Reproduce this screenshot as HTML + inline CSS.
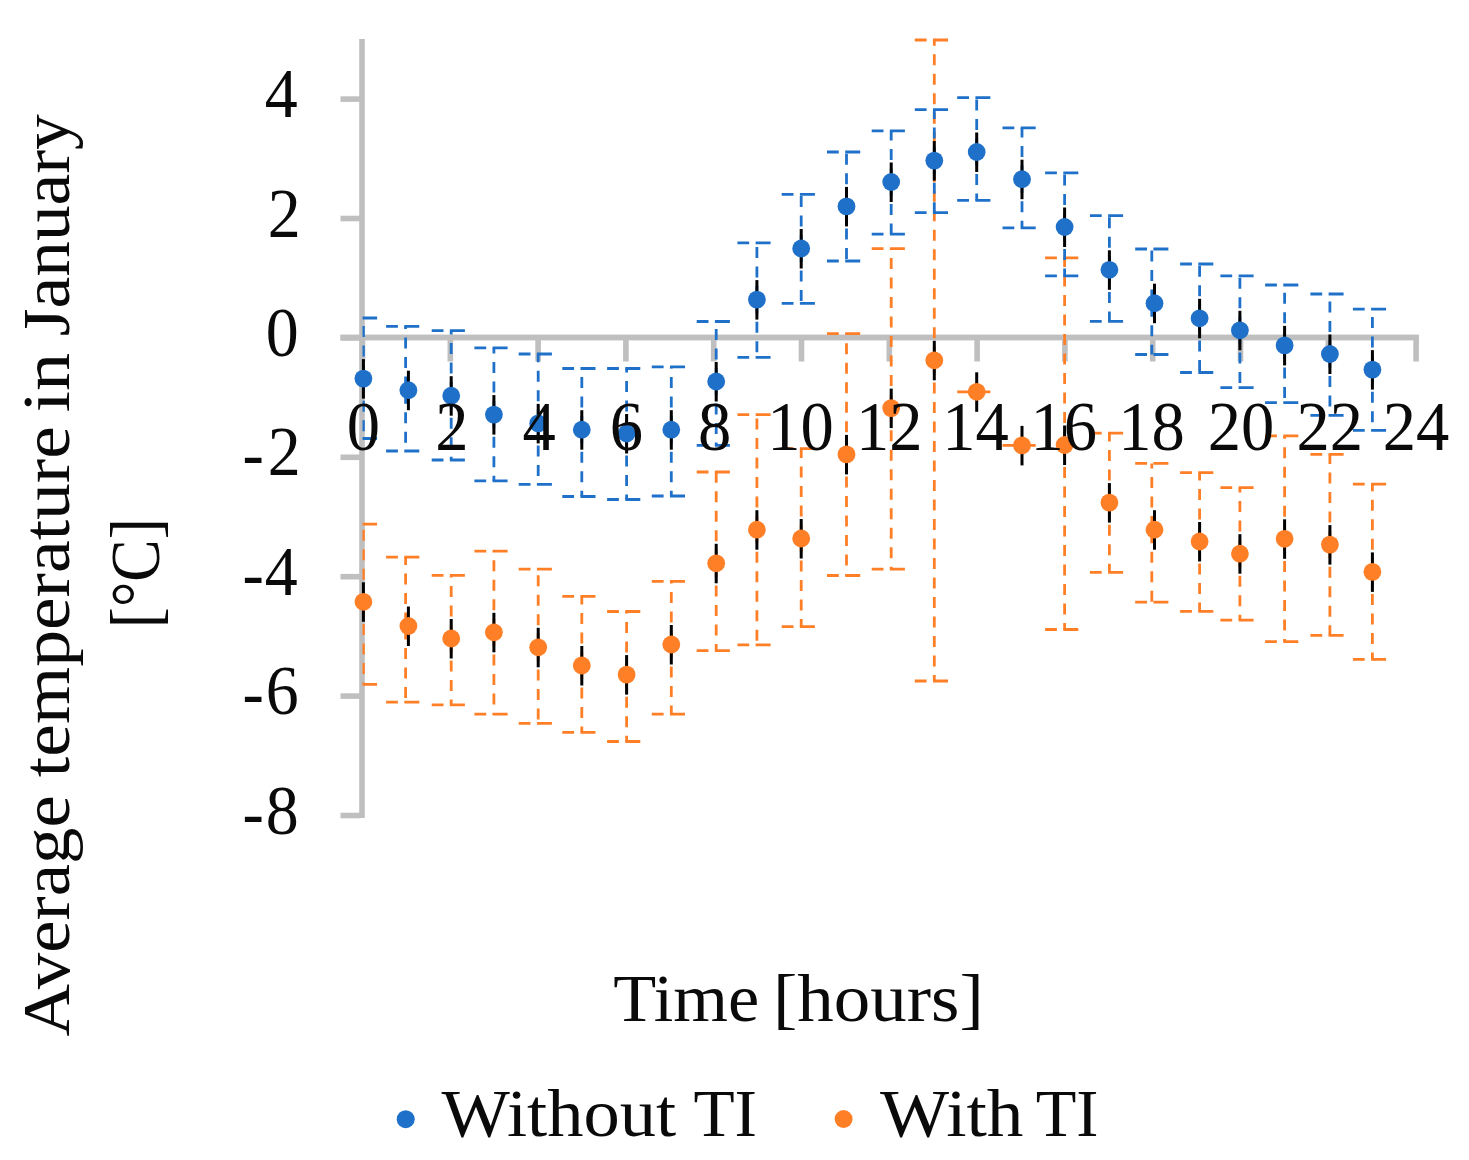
<!DOCTYPE html>
<html><head><meta charset="utf-8"><title>Average temperature in January</title>
<style>
html,body{margin:0;padding:0;background:#fff}
body{width:1469px;height:1160px;overflow:hidden}
svg{display:block;filter:blur(0.65px)}
text{font-family:"Liberation Serif",serif;fill:#0a0a0a}
</style></head><body>
<svg width="1469" height="1160" viewBox="0 0 1469 1160">
<rect width="1469" height="1160" fill="#fff"/>
<defs><clipPath id="plot"><rect x="362.5" y="36" width="1090" height="790"/></clipPath></defs>
<g id="axes">
<rect x="359.2" y="39" width="5.6" height="779" fill="#bfbfbf"/>
<rect x="340.5" y="96.3" width="20" height="5.6" fill="#bfbfbf"/>
<rect x="340.5" y="215.7" width="20" height="5.6" fill="#bfbfbf"/>
<rect x="340.5" y="335.1" width="20" height="5.6" fill="#bfbfbf"/>
<rect x="340.5" y="454.5" width="20" height="5.6" fill="#bfbfbf"/>
<rect x="340.5" y="573.9" width="20" height="5.6" fill="#bfbfbf"/>
<rect x="340.5" y="693.3" width="20" height="5.6" fill="#bfbfbf"/>
<rect x="340.5" y="812.7" width="20" height="5.6" fill="#bfbfbf"/>
<rect x="340.5" y="334.6" width="1078.4" height="5.8" fill="#bfbfbf"/>
<rect x="359.7" y="337" width="5.6" height="24.5" fill="#bfbfbf"/>
<rect x="447.5" y="337" width="5.6" height="24.5" fill="#bfbfbf"/>
<rect x="535.3" y="337" width="5.6" height="24.5" fill="#bfbfbf"/>
<rect x="623.1" y="337" width="5.6" height="24.5" fill="#bfbfbf"/>
<rect x="710.9" y="337" width="5.6" height="24.5" fill="#bfbfbf"/>
<rect x="798.7" y="337" width="5.6" height="24.5" fill="#bfbfbf"/>
<rect x="886.5" y="337" width="5.6" height="24.5" fill="#bfbfbf"/>
<rect x="974.3" y="337" width="5.6" height="24.5" fill="#bfbfbf"/>
<rect x="1062.1" y="337" width="5.6" height="24.5" fill="#bfbfbf"/>
<rect x="1149.9" y="337" width="5.6" height="24.5" fill="#bfbfbf"/>
<rect x="1237.7" y="337" width="5.6" height="24.5" fill="#bfbfbf"/>
<rect x="1325.5" y="337" width="5.6" height="24.5" fill="#bfbfbf"/>
<rect x="1413.3" y="337" width="5.6" height="24.5" fill="#bfbfbf"/>
</g>
<g id="orange" clip-path="url(#plot)">
<path d="M343.9 524.2h33.2" stroke="#ff7f27" stroke-width="2.8" stroke-dasharray="11.8 6.4 20 0" fill="none"/>
<path d="M343.9 684.3h33.2" stroke="#ff7f27" stroke-width="2.8" stroke-dasharray="11.8 6.4 20 0" fill="none"/>
<path d="M363.4 601.8V524.2" stroke="#ff7f27" stroke-width="2.8" stroke-dasharray="11 8.5" stroke-dashoffset="-2.6" fill="none"/>
<path d="M363.4 601.8V684.3" stroke="#ff7f27" stroke-width="2.8" stroke-dasharray="11 8.5" stroke-dashoffset="-2.6" fill="none"/>
<path d="M386.1 557.2h33.2" stroke="#ff7f27" stroke-width="2.8" stroke-dasharray="11.8 6.4 20 0" fill="none"/>
<path d="M386.1 702.2h33.2" stroke="#ff7f27" stroke-width="2.8" stroke-dasharray="11.8 6.4 20 0" fill="none"/>
<path d="M405.6 626.0V557.2" stroke="#ff7f27" stroke-width="2.8" stroke-dasharray="11 8.5" stroke-dashoffset="-2.6" fill="none"/>
<path d="M405.6 626.0V702.2" stroke="#ff7f27" stroke-width="2.8" stroke-dasharray="11 8.5" stroke-dashoffset="-2.6" fill="none"/>
<path d="M431.7 575.4h33.2" stroke="#ff7f27" stroke-width="2.8" stroke-dasharray="11.8 6.4 20 0" fill="none"/>
<path d="M431.7 704.8h33.2" stroke="#ff7f27" stroke-width="2.8" stroke-dasharray="11.8 6.4 20 0" fill="none"/>
<path d="M451.2 638.5V575.4" stroke="#ff7f27" stroke-width="2.8" stroke-dasharray="11 8.5" stroke-dashoffset="-2.6" fill="none"/>
<path d="M451.2 638.5V704.8" stroke="#ff7f27" stroke-width="2.8" stroke-dasharray="11 8.5" stroke-dashoffset="-2.6" fill="none"/>
<path d="M474.4 551.2h33.2" stroke="#ff7f27" stroke-width="2.8" stroke-dasharray="11.8 6.4 20 0" fill="none"/>
<path d="M474.4 714.2h33.2" stroke="#ff7f27" stroke-width="2.8" stroke-dasharray="11.8 6.4 20 0" fill="none"/>
<path d="M493.9 632.3V551.2" stroke="#ff7f27" stroke-width="2.8" stroke-dasharray="11 8.5" stroke-dashoffset="-2.6" fill="none"/>
<path d="M493.9 632.3V714.2" stroke="#ff7f27" stroke-width="2.8" stroke-dasharray="11 8.5" stroke-dashoffset="-2.6" fill="none"/>
<path d="M518.7 569.1h33.2" stroke="#ff7f27" stroke-width="2.8" stroke-dasharray="11.8 6.4 20 0" fill="none"/>
<path d="M518.7 723.3h33.2" stroke="#ff7f27" stroke-width="2.8" stroke-dasharray="11.8 6.4 20 0" fill="none"/>
<path d="M538.2 647.3V569.1" stroke="#ff7f27" stroke-width="2.8" stroke-dasharray="11 8.5" stroke-dashoffset="-2.6" fill="none"/>
<path d="M538.2 647.3V723.3" stroke="#ff7f27" stroke-width="2.8" stroke-dasharray="11 8.5" stroke-dashoffset="-2.6" fill="none"/>
<path d="M562.3 596.4h33.2" stroke="#ff7f27" stroke-width="2.8" stroke-dasharray="11.8 6.4 20 0" fill="none"/>
<path d="M562.3 732.4h33.2" stroke="#ff7f27" stroke-width="2.8" stroke-dasharray="11.8 6.4 20 0" fill="none"/>
<path d="M581.8 665.5V596.4" stroke="#ff7f27" stroke-width="2.8" stroke-dasharray="11 8.5" stroke-dashoffset="-2.6" fill="none"/>
<path d="M581.8 665.5V732.4" stroke="#ff7f27" stroke-width="2.8" stroke-dasharray="11 8.5" stroke-dashoffset="-2.6" fill="none"/>
<path d="M607.1 611.5h33.2" stroke="#ff7f27" stroke-width="2.8" stroke-dasharray="11.8 6.4 20 0" fill="none"/>
<path d="M607.1 741.5h33.2" stroke="#ff7f27" stroke-width="2.8" stroke-dasharray="11.8 6.4 20 0" fill="none"/>
<path d="M626.6 674.6V611.5" stroke="#ff7f27" stroke-width="2.8" stroke-dasharray="11 8.5" stroke-dashoffset="-2.6" fill="none"/>
<path d="M626.6 674.6V741.5" stroke="#ff7f27" stroke-width="2.8" stroke-dasharray="11 8.5" stroke-dashoffset="-2.6" fill="none"/>
<path d="M651.8 581.3h33.2" stroke="#ff7f27" stroke-width="2.8" stroke-dasharray="11.8 6.4 20 0" fill="none"/>
<path d="M651.8 714.2h33.2" stroke="#ff7f27" stroke-width="2.8" stroke-dasharray="11.8 6.4 20 0" fill="none"/>
<path d="M671.3 644.5V581.3" stroke="#ff7f27" stroke-width="2.8" stroke-dasharray="11 8.5" stroke-dashoffset="-2.6" fill="none"/>
<path d="M671.3 644.5V714.2" stroke="#ff7f27" stroke-width="2.8" stroke-dasharray="11 8.5" stroke-dashoffset="-2.6" fill="none"/>
<path d="M696.7 472.0h33.2" stroke="#ff7f27" stroke-width="2.8" stroke-dasharray="11.8 6.4 20 0" fill="none"/>
<path d="M696.7 650.7h33.2" stroke="#ff7f27" stroke-width="2.8" stroke-dasharray="11.8 6.4 20 0" fill="none"/>
<path d="M716.2 563.3V472.0" stroke="#ff7f27" stroke-width="2.8" stroke-dasharray="11 8.5" stroke-dashoffset="-2.6" fill="none"/>
<path d="M716.2 563.3V650.7" stroke="#ff7f27" stroke-width="2.8" stroke-dasharray="11 8.5" stroke-dashoffset="-2.6" fill="none"/>
<path d="M737.4 414.6h33.2" stroke="#ff7f27" stroke-width="2.8" stroke-dasharray="11.8 6.4 20 0" fill="none"/>
<path d="M737.4 644.8h33.2" stroke="#ff7f27" stroke-width="2.8" stroke-dasharray="11.8 6.4 20 0" fill="none"/>
<path d="M756.9 529.7V414.6" stroke="#ff7f27" stroke-width="2.8" stroke-dasharray="11 8.5" stroke-dashoffset="-2.6" fill="none"/>
<path d="M756.9 529.7V644.8" stroke="#ff7f27" stroke-width="2.8" stroke-dasharray="11 8.5" stroke-dashoffset="-2.6" fill="none"/>
<path d="M781.7 448.7h33.2" stroke="#ff7f27" stroke-width="2.8" stroke-dasharray="11.8 6.4 20 0" fill="none"/>
<path d="M781.7 626.7h33.2" stroke="#ff7f27" stroke-width="2.8" stroke-dasharray="11.8 6.4 20 0" fill="none"/>
<path d="M801.2 538.5V448.7" stroke="#ff7f27" stroke-width="2.8" stroke-dasharray="11 8.5" stroke-dashoffset="-2.6" fill="none"/>
<path d="M801.2 538.5V626.7" stroke="#ff7f27" stroke-width="2.8" stroke-dasharray="11 8.5" stroke-dashoffset="-2.6" fill="none"/>
<path d="M827.0 333.6h33.2" stroke="#ff7f27" stroke-width="2.8" stroke-dasharray="11.8 6.4 20 0" fill="none"/>
<path d="M827.0 575.5h33.2" stroke="#ff7f27" stroke-width="2.8" stroke-dasharray="11.8 6.4 20 0" fill="none"/>
<path d="M846.5 454.4V333.6" stroke="#ff7f27" stroke-width="2.8" stroke-dasharray="11 8.5" stroke-dashoffset="-2.6" fill="none"/>
<path d="M846.5 454.4V575.5" stroke="#ff7f27" stroke-width="2.8" stroke-dasharray="11 8.5" stroke-dashoffset="-2.6" fill="none"/>
<path d="M871.7 248.7h33.2" stroke="#ff7f27" stroke-width="2.8" stroke-dasharray="11.8 6.4 20 0" fill="none"/>
<path d="M871.7 569.2h33.2" stroke="#ff7f27" stroke-width="2.8" stroke-dasharray="11.8 6.4 20 0" fill="none"/>
<path d="M891.2 408.1V248.7" stroke="#ff7f27" stroke-width="2.8" stroke-dasharray="11 8.5" stroke-dashoffset="-2.6" fill="none"/>
<path d="M891.2 408.1V569.2" stroke="#ff7f27" stroke-width="2.8" stroke-dasharray="11 8.5" stroke-dashoffset="-2.6" fill="none"/>
<path d="M914.8 40.0h33.2" stroke="#ff7f27" stroke-width="2.8" stroke-dasharray="11.8 6.4 20 0" fill="none"/>
<path d="M914.8 681.0h33.2" stroke="#ff7f27" stroke-width="2.8" stroke-dasharray="11.8 6.4 20 0" fill="none"/>
<path d="M934.3 360.3V40.0" stroke="#ff7f27" stroke-width="2.8" stroke-dasharray="11 8.5" stroke-dashoffset="-2.6" fill="none"/>
<path d="M934.3 360.3V681.0" stroke="#ff7f27" stroke-width="2.8" stroke-dasharray="11 8.5" stroke-dashoffset="-2.6" fill="none"/>
<path d="M957.2 391.8h33.2" stroke="#ff7f27" stroke-width="2.8" stroke-dasharray="11.8 6.4 20 0" fill="none"/>
<path d="M1002.5 445.4h33.2" stroke="#ff7f27" stroke-width="2.8" stroke-dasharray="11.8 6.4 20 0" fill="none"/>
<path d="M1045.1 257.8h33.2" stroke="#ff7f27" stroke-width="2.8" stroke-dasharray="11.8 6.4 20 0" fill="none"/>
<path d="M1045.1 629.5h33.2" stroke="#ff7f27" stroke-width="2.8" stroke-dasharray="11.8 6.4 20 0" fill="none"/>
<path d="M1064.6 445.0V257.8" stroke="#ff7f27" stroke-width="2.8" stroke-dasharray="11 8.5" stroke-dashoffset="-2.6" fill="none"/>
<path d="M1064.6 445.0V629.5" stroke="#ff7f27" stroke-width="2.8" stroke-dasharray="11 8.5" stroke-dashoffset="-2.6" fill="none"/>
<path d="M1089.9 433.1h33.2" stroke="#ff7f27" stroke-width="2.8" stroke-dasharray="11.8 6.4 20 0" fill="none"/>
<path d="M1089.9 572.4h33.2" stroke="#ff7f27" stroke-width="2.8" stroke-dasharray="11.8 6.4 20 0" fill="none"/>
<path d="M1109.4 502.6V433.1" stroke="#ff7f27" stroke-width="2.8" stroke-dasharray="11 8.5" stroke-dashoffset="-2.6" fill="none"/>
<path d="M1109.4 502.6V572.4" stroke="#ff7f27" stroke-width="2.8" stroke-dasharray="11 8.5" stroke-dashoffset="-2.6" fill="none"/>
<path d="M1135.2 463.4h33.2" stroke="#ff7f27" stroke-width="2.8" stroke-dasharray="11.8 6.4 20 0" fill="none"/>
<path d="M1135.2 602.2h33.2" stroke="#ff7f27" stroke-width="2.8" stroke-dasharray="11.8 6.4 20 0" fill="none"/>
<path d="M1151.8 529.7V463.4" stroke="#ff7f27" stroke-width="2.8" stroke-dasharray="11 8.5" stroke-dashoffset="-2.6" fill="none"/>
<path d="M1151.8 529.7V602.2" stroke="#ff7f27" stroke-width="2.8" stroke-dasharray="11 8.5" stroke-dashoffset="-2.6" fill="none"/>
<path d="M1180.1 472.6h33.2" stroke="#ff7f27" stroke-width="2.8" stroke-dasharray="11.8 6.4 20 0" fill="none"/>
<path d="M1180.1 611.3h33.2" stroke="#ff7f27" stroke-width="2.8" stroke-dasharray="11.8 6.4 20 0" fill="none"/>
<path d="M1199.6 541.5V472.6" stroke="#ff7f27" stroke-width="2.8" stroke-dasharray="11 8.5" stroke-dashoffset="-2.6" fill="none"/>
<path d="M1199.6 541.5V611.3" stroke="#ff7f27" stroke-width="2.8" stroke-dasharray="11 8.5" stroke-dashoffset="-2.6" fill="none"/>
<path d="M1220.4 487.7h33.2" stroke="#ff7f27" stroke-width="2.8" stroke-dasharray="11.8 6.4 20 0" fill="none"/>
<path d="M1220.4 620.1h33.2" stroke="#ff7f27" stroke-width="2.8" stroke-dasharray="11.8 6.4 20 0" fill="none"/>
<path d="M1239.9 553.7V487.7" stroke="#ff7f27" stroke-width="2.8" stroke-dasharray="11 8.5" stroke-dashoffset="-2.6" fill="none"/>
<path d="M1239.9 553.7V620.1" stroke="#ff7f27" stroke-width="2.8" stroke-dasharray="11 8.5" stroke-dashoffset="-2.6" fill="none"/>
<path d="M1265.1 435.9h33.2" stroke="#ff7f27" stroke-width="2.8" stroke-dasharray="11.8 6.4 20 0" fill="none"/>
<path d="M1265.1 641.7h33.2" stroke="#ff7f27" stroke-width="2.8" stroke-dasharray="11.8 6.4 20 0" fill="none"/>
<path d="M1284.6 538.8V435.9" stroke="#ff7f27" stroke-width="2.8" stroke-dasharray="11 8.5" stroke-dashoffset="-2.6" fill="none"/>
<path d="M1284.6 538.8V641.7" stroke="#ff7f27" stroke-width="2.8" stroke-dasharray="11 8.5" stroke-dashoffset="-2.6" fill="none"/>
<path d="M1310.4 454.3h33.2" stroke="#ff7f27" stroke-width="2.8" stroke-dasharray="11.8 6.4 20 0" fill="none"/>
<path d="M1310.4 635.3h33.2" stroke="#ff7f27" stroke-width="2.8" stroke-dasharray="11.8 6.4 20 0" fill="none"/>
<path d="M1329.9 544.6V454.3" stroke="#ff7f27" stroke-width="2.8" stroke-dasharray="11 8.5" stroke-dashoffset="-2.6" fill="none"/>
<path d="M1329.9 544.6V635.3" stroke="#ff7f27" stroke-width="2.8" stroke-dasharray="11 8.5" stroke-dashoffset="-2.6" fill="none"/>
<path d="M1352.9 484.1h33.2" stroke="#ff7f27" stroke-width="2.8" stroke-dasharray="11.8 6.4 20 0" fill="none"/>
<path d="M1352.9 659.3h33.2" stroke="#ff7f27" stroke-width="2.8" stroke-dasharray="11.8 6.4 20 0" fill="none"/>
<path d="M1372.4 571.9V484.1" stroke="#ff7f27" stroke-width="2.8" stroke-dasharray="11 8.5" stroke-dashoffset="-2.6" fill="none"/>
<path d="M1372.4 571.9V659.3" stroke="#ff7f27" stroke-width="2.8" stroke-dasharray="11 8.5" stroke-dashoffset="-2.6" fill="none"/>
</g>
<g id="blue" clip-path="url(#plot)">
<path d="M343.9 318.0h33.2" stroke="#1f70c9" stroke-width="2.8" stroke-dasharray="11.8 6.4 20 0" fill="none"/>
<path d="M343.9 438.5h33.2" stroke="#1f70c9" stroke-width="2.8" stroke-dasharray="11.8 6.4 20 0" fill="none"/>
<path d="M363.4 378.6V318.0" stroke="#1f70c9" stroke-width="2.8" stroke-dasharray="11 8.5" stroke-dashoffset="-2.6" fill="none"/>
<path d="M363.4 378.6V438.5" stroke="#1f70c9" stroke-width="2.8" stroke-dasharray="11 8.5" stroke-dashoffset="-2.6" fill="none"/>
<path d="M386.1 326.4h33.2" stroke="#1f70c9" stroke-width="2.8" stroke-dasharray="11.8 6.4 20 0" fill="none"/>
<path d="M386.1 451.0h33.2" stroke="#1f70c9" stroke-width="2.8" stroke-dasharray="11.8 6.4 20 0" fill="none"/>
<path d="M405.6 390.2V326.4" stroke="#1f70c9" stroke-width="2.8" stroke-dasharray="11 8.5" stroke-dashoffset="-2.6" fill="none"/>
<path d="M405.6 390.2V451.0" stroke="#1f70c9" stroke-width="2.8" stroke-dasharray="11 8.5" stroke-dashoffset="-2.6" fill="none"/>
<path d="M431.7 330.7h33.2" stroke="#1f70c9" stroke-width="2.8" stroke-dasharray="11.8 6.4 20 0" fill="none"/>
<path d="M431.7 460.0h33.2" stroke="#1f70c9" stroke-width="2.8" stroke-dasharray="11.8 6.4 20 0" fill="none"/>
<path d="M451.2 395.7V330.7" stroke="#1f70c9" stroke-width="2.8" stroke-dasharray="11 8.5" stroke-dashoffset="-2.6" fill="none"/>
<path d="M451.2 395.7V460.0" stroke="#1f70c9" stroke-width="2.8" stroke-dasharray="11 8.5" stroke-dashoffset="-2.6" fill="none"/>
<path d="M474.4 347.9h33.2" stroke="#1f70c9" stroke-width="2.8" stroke-dasharray="11.8 6.4 20 0" fill="none"/>
<path d="M474.4 480.9h33.2" stroke="#1f70c9" stroke-width="2.8" stroke-dasharray="11.8 6.4 20 0" fill="none"/>
<path d="M493.9 414.6V347.9" stroke="#1f70c9" stroke-width="2.8" stroke-dasharray="11 8.5" stroke-dashoffset="-2.6" fill="none"/>
<path d="M493.9 414.6V480.9" stroke="#1f70c9" stroke-width="2.8" stroke-dasharray="11 8.5" stroke-dashoffset="-2.6" fill="none"/>
<path d="M518.7 354.0h33.2" stroke="#1f70c9" stroke-width="2.8" stroke-dasharray="11.8 6.4 20 0" fill="none"/>
<path d="M518.7 484.4h33.2" stroke="#1f70c9" stroke-width="2.8" stroke-dasharray="11.8 6.4 20 0" fill="none"/>
<path d="M538.2 423.4V354.0" stroke="#1f70c9" stroke-width="2.8" stroke-dasharray="11 8.5" stroke-dashoffset="-2.6" fill="none"/>
<path d="M538.2 423.4V484.4" stroke="#1f70c9" stroke-width="2.8" stroke-dasharray="11 8.5" stroke-dashoffset="-2.6" fill="none"/>
<path d="M562.3 368.5h33.2" stroke="#1f70c9" stroke-width="2.8" stroke-dasharray="11.8 6.4 20 0" fill="none"/>
<path d="M562.3 496.5h33.2" stroke="#1f70c9" stroke-width="2.8" stroke-dasharray="11.8 6.4 20 0" fill="none"/>
<path d="M581.8 429.7V368.5" stroke="#1f70c9" stroke-width="2.8" stroke-dasharray="11 8.5" stroke-dashoffset="-2.6" fill="none"/>
<path d="M581.8 429.7V496.5" stroke="#1f70c9" stroke-width="2.8" stroke-dasharray="11 8.5" stroke-dashoffset="-2.6" fill="none"/>
<path d="M607.1 368.5h33.2" stroke="#1f70c9" stroke-width="2.8" stroke-dasharray="11.8 6.4 20 0" fill="none"/>
<path d="M607.1 499.5h33.2" stroke="#1f70c9" stroke-width="2.8" stroke-dasharray="11.8 6.4 20 0" fill="none"/>
<path d="M626.6 433.5V368.5" stroke="#1f70c9" stroke-width="2.8" stroke-dasharray="11 8.5" stroke-dashoffset="-2.6" fill="none"/>
<path d="M626.6 433.5V499.5" stroke="#1f70c9" stroke-width="2.8" stroke-dasharray="11 8.5" stroke-dashoffset="-2.6" fill="none"/>
<path d="M651.8 366.8h33.2" stroke="#1f70c9" stroke-width="2.8" stroke-dasharray="11.8 6.4 20 0" fill="none"/>
<path d="M651.8 496.0h33.2" stroke="#1f70c9" stroke-width="2.8" stroke-dasharray="11.8 6.4 20 0" fill="none"/>
<path d="M671.3 429.7V366.8" stroke="#1f70c9" stroke-width="2.8" stroke-dasharray="11 8.5" stroke-dashoffset="-2.6" fill="none"/>
<path d="M671.3 429.7V496.0" stroke="#1f70c9" stroke-width="2.8" stroke-dasharray="11 8.5" stroke-dashoffset="-2.6" fill="none"/>
<path d="M696.7 321.5h33.2" stroke="#1f70c9" stroke-width="2.8" stroke-dasharray="11.8 6.4 20 0" fill="none"/>
<path d="M696.7 445.4h33.2" stroke="#1f70c9" stroke-width="2.8" stroke-dasharray="11.8 6.4 20 0" fill="none"/>
<path d="M716.2 381.5V321.5" stroke="#1f70c9" stroke-width="2.8" stroke-dasharray="11 8.5" stroke-dashoffset="-2.6" fill="none"/>
<path d="M716.2 381.5V445.4" stroke="#1f70c9" stroke-width="2.8" stroke-dasharray="11 8.5" stroke-dashoffset="-2.6" fill="none"/>
<path d="M737.4 242.9h33.2" stroke="#1f70c9" stroke-width="2.8" stroke-dasharray="11.8 6.4 20 0" fill="none"/>
<path d="M737.4 357.4h33.2" stroke="#1f70c9" stroke-width="2.8" stroke-dasharray="11.8 6.4 20 0" fill="none"/>
<path d="M756.9 299.6V242.9" stroke="#1f70c9" stroke-width="2.8" stroke-dasharray="11 8.5" stroke-dashoffset="-2.6" fill="none"/>
<path d="M756.9 299.6V357.4" stroke="#1f70c9" stroke-width="2.8" stroke-dasharray="11 8.5" stroke-dashoffset="-2.6" fill="none"/>
<path d="M781.7 194.3h33.2" stroke="#1f70c9" stroke-width="2.8" stroke-dasharray="11.8 6.4 20 0" fill="none"/>
<path d="M781.7 303.4h33.2" stroke="#1f70c9" stroke-width="2.8" stroke-dasharray="11.8 6.4 20 0" fill="none"/>
<path d="M801.2 248.5V194.3" stroke="#1f70c9" stroke-width="2.8" stroke-dasharray="11 8.5" stroke-dashoffset="-2.6" fill="none"/>
<path d="M801.2 248.5V303.4" stroke="#1f70c9" stroke-width="2.8" stroke-dasharray="11 8.5" stroke-dashoffset="-2.6" fill="none"/>
<path d="M827.0 152.0h33.2" stroke="#1f70c9" stroke-width="2.8" stroke-dasharray="11.8 6.4 20 0" fill="none"/>
<path d="M827.0 261.0h33.2" stroke="#1f70c9" stroke-width="2.8" stroke-dasharray="11.8 6.4 20 0" fill="none"/>
<path d="M846.5 206.4V152.0" stroke="#1f70c9" stroke-width="2.8" stroke-dasharray="11 8.5" stroke-dashoffset="-2.6" fill="none"/>
<path d="M846.5 206.4V261.0" stroke="#1f70c9" stroke-width="2.8" stroke-dasharray="11 8.5" stroke-dashoffset="-2.6" fill="none"/>
<path d="M871.7 130.8h33.2" stroke="#1f70c9" stroke-width="2.8" stroke-dasharray="11.8 6.4 20 0" fill="none"/>
<path d="M871.7 234.1h33.2" stroke="#1f70c9" stroke-width="2.8" stroke-dasharray="11.8 6.4 20 0" fill="none"/>
<path d="M891.2 182.0V130.8" stroke="#1f70c9" stroke-width="2.8" stroke-dasharray="11 8.5" stroke-dashoffset="-2.6" fill="none"/>
<path d="M891.2 182.0V234.1" stroke="#1f70c9" stroke-width="2.8" stroke-dasharray="11 8.5" stroke-dashoffset="-2.6" fill="none"/>
<path d="M914.8 109.7h33.2" stroke="#1f70c9" stroke-width="2.8" stroke-dasharray="11.8 6.4 20 0" fill="none"/>
<path d="M914.8 212.7h33.2" stroke="#1f70c9" stroke-width="2.8" stroke-dasharray="11.8 6.4 20 0" fill="none"/>
<path d="M934.3 160.6V109.7" stroke="#1f70c9" stroke-width="2.8" stroke-dasharray="11 8.5" stroke-dashoffset="-2.6" fill="none"/>
<path d="M934.3 160.6V212.7" stroke="#1f70c9" stroke-width="2.8" stroke-dasharray="11 8.5" stroke-dashoffset="-2.6" fill="none"/>
<path d="M957.2 97.6h33.2" stroke="#1f70c9" stroke-width="2.8" stroke-dasharray="11.8 6.4 20 0" fill="none"/>
<path d="M957.2 200.4h33.2" stroke="#1f70c9" stroke-width="2.8" stroke-dasharray="11.8 6.4 20 0" fill="none"/>
<path d="M976.7 152.0V97.6" stroke="#1f70c9" stroke-width="2.8" stroke-dasharray="11 8.5" stroke-dashoffset="-2.6" fill="none"/>
<path d="M976.7 152.0V200.4" stroke="#1f70c9" stroke-width="2.8" stroke-dasharray="11 8.5" stroke-dashoffset="-2.6" fill="none"/>
<path d="M1002.5 127.8h33.2" stroke="#1f70c9" stroke-width="2.8" stroke-dasharray="11.8 6.4 20 0" fill="none"/>
<path d="M1002.5 227.8h33.2" stroke="#1f70c9" stroke-width="2.8" stroke-dasharray="11.8 6.4 20 0" fill="none"/>
<path d="M1022.0 179.2V127.8" stroke="#1f70c9" stroke-width="2.8" stroke-dasharray="11 8.5" stroke-dashoffset="-2.6" fill="none"/>
<path d="M1022.0 179.2V227.8" stroke="#1f70c9" stroke-width="2.8" stroke-dasharray="11 8.5" stroke-dashoffset="-2.6" fill="none"/>
<path d="M1045.1 172.8h33.2" stroke="#1f70c9" stroke-width="2.8" stroke-dasharray="11.8 6.4 20 0" fill="none"/>
<path d="M1045.1 275.8h33.2" stroke="#1f70c9" stroke-width="2.8" stroke-dasharray="11.8 6.4 20 0" fill="none"/>
<path d="M1064.6 227.0V172.8" stroke="#1f70c9" stroke-width="2.8" stroke-dasharray="11 8.5" stroke-dashoffset="-2.6" fill="none"/>
<path d="M1064.6 227.0V275.8" stroke="#1f70c9" stroke-width="2.8" stroke-dasharray="11 8.5" stroke-dashoffset="-2.6" fill="none"/>
<path d="M1089.9 215.6h33.2" stroke="#1f70c9" stroke-width="2.8" stroke-dasharray="11.8 6.4 20 0" fill="none"/>
<path d="M1089.9 321.4h33.2" stroke="#1f70c9" stroke-width="2.8" stroke-dasharray="11.8 6.4 20 0" fill="none"/>
<path d="M1109.4 269.8V215.6" stroke="#1f70c9" stroke-width="2.8" stroke-dasharray="11 8.5" stroke-dashoffset="-2.6" fill="none"/>
<path d="M1109.4 269.8V321.4" stroke="#1f70c9" stroke-width="2.8" stroke-dasharray="11 8.5" stroke-dashoffset="-2.6" fill="none"/>
<path d="M1135.2 249.0h33.2" stroke="#1f70c9" stroke-width="2.8" stroke-dasharray="11.8 6.4 20 0" fill="none"/>
<path d="M1135.2 354.5h33.2" stroke="#1f70c9" stroke-width="2.8" stroke-dasharray="11.8 6.4 20 0" fill="none"/>
<path d="M1151.8 303.2V249.0" stroke="#1f70c9" stroke-width="2.8" stroke-dasharray="11 8.5" stroke-dashoffset="-2.6" fill="none"/>
<path d="M1151.8 303.2V354.5" stroke="#1f70c9" stroke-width="2.8" stroke-dasharray="11 8.5" stroke-dashoffset="-2.6" fill="none"/>
<path d="M1180.1 264.0h33.2" stroke="#1f70c9" stroke-width="2.8" stroke-dasharray="11.8 6.4 20 0" fill="none"/>
<path d="M1180.1 372.5h33.2" stroke="#1f70c9" stroke-width="2.8" stroke-dasharray="11.8 6.4 20 0" fill="none"/>
<path d="M1199.6 318.3V264.0" stroke="#1f70c9" stroke-width="2.8" stroke-dasharray="11 8.5" stroke-dashoffset="-2.6" fill="none"/>
<path d="M1199.6 318.3V372.5" stroke="#1f70c9" stroke-width="2.8" stroke-dasharray="11 8.5" stroke-dashoffset="-2.6" fill="none"/>
<path d="M1220.4 275.8h33.2" stroke="#1f70c9" stroke-width="2.8" stroke-dasharray="11.8 6.4 20 0" fill="none"/>
<path d="M1220.4 387.6h33.2" stroke="#1f70c9" stroke-width="2.8" stroke-dasharray="11.8 6.4 20 0" fill="none"/>
<path d="M1239.9 330.3V275.8" stroke="#1f70c9" stroke-width="2.8" stroke-dasharray="11 8.5" stroke-dashoffset="-2.6" fill="none"/>
<path d="M1239.9 330.3V387.6" stroke="#1f70c9" stroke-width="2.8" stroke-dasharray="11 8.5" stroke-dashoffset="-2.6" fill="none"/>
<path d="M1265.1 285.0h33.2" stroke="#1f70c9" stroke-width="2.8" stroke-dasharray="11.8 6.4 20 0" fill="none"/>
<path d="M1265.1 402.7h33.2" stroke="#1f70c9" stroke-width="2.8" stroke-dasharray="11.8 6.4 20 0" fill="none"/>
<path d="M1284.6 345.4V285.0" stroke="#1f70c9" stroke-width="2.8" stroke-dasharray="11 8.5" stroke-dashoffset="-2.6" fill="none"/>
<path d="M1284.6 345.4V402.7" stroke="#1f70c9" stroke-width="2.8" stroke-dasharray="11 8.5" stroke-dashoffset="-2.6" fill="none"/>
<path d="M1310.4 294.0h33.2" stroke="#1f70c9" stroke-width="2.8" stroke-dasharray="11.8 6.4 20 0" fill="none"/>
<path d="M1310.4 415.3h33.2" stroke="#1f70c9" stroke-width="2.8" stroke-dasharray="11.8 6.4 20 0" fill="none"/>
<path d="M1329.9 354.0V294.0" stroke="#1f70c9" stroke-width="2.8" stroke-dasharray="11 8.5" stroke-dashoffset="-2.6" fill="none"/>
<path d="M1329.9 354.0V415.3" stroke="#1f70c9" stroke-width="2.8" stroke-dasharray="11 8.5" stroke-dashoffset="-2.6" fill="none"/>
<path d="M1352.9 309.2h33.2" stroke="#1f70c9" stroke-width="2.8" stroke-dasharray="11.8 6.4 20 0" fill="none"/>
<path d="M1352.9 430.4h33.2" stroke="#1f70c9" stroke-width="2.8" stroke-dasharray="11.8 6.4 20 0" fill="none"/>
<path d="M1372.4 369.6V309.2" stroke="#1f70c9" stroke-width="2.8" stroke-dasharray="11 8.5" stroke-dashoffset="-2.6" fill="none"/>
<path d="M1372.4 369.6V430.4" stroke="#1f70c9" stroke-width="2.8" stroke-dasharray="11 8.5" stroke-dashoffset="-2.6" fill="none"/>
</g>
<g id="pts">
<path d="M363.4 359.1V398.6" stroke="#000" stroke-width="3"/>
<path d="M408.4 370.7V410.2" stroke="#000" stroke-width="3"/>
<path d="M451.2 376.2V415.7" stroke="#000" stroke-width="3"/>
<path d="M493.9 395.1V434.6" stroke="#000" stroke-width="3"/>
<path d="M538.2 403.9V443.4" stroke="#000" stroke-width="3"/>
<path d="M581.8 410.2V449.7" stroke="#000" stroke-width="3"/>
<path d="M626.6 414.0V453.5" stroke="#000" stroke-width="3"/>
<path d="M671.3 410.2V449.7" stroke="#000" stroke-width="3"/>
<path d="M716.2 362.0V401.5" stroke="#000" stroke-width="3"/>
<path d="M756.9 280.1V319.6" stroke="#000" stroke-width="3"/>
<path d="M801.2 229.0V268.5" stroke="#000" stroke-width="3"/>
<path d="M846.5 186.9V226.4" stroke="#000" stroke-width="3"/>
<path d="M891.2 162.5V202.0" stroke="#000" stroke-width="3"/>
<path d="M934.3 141.1V180.6" stroke="#000" stroke-width="3"/>
<path d="M976.7 132.5V172.0" stroke="#000" stroke-width="3"/>
<path d="M1022.0 159.7V199.2" stroke="#000" stroke-width="3"/>
<path d="M1064.6 207.5V247.0" stroke="#000" stroke-width="3"/>
<path d="M1109.4 250.3V289.8" stroke="#000" stroke-width="3"/>
<path d="M1154.5 283.7V323.2" stroke="#000" stroke-width="3"/>
<path d="M1199.6 298.8V338.3" stroke="#000" stroke-width="3"/>
<path d="M1239.9 310.8V350.3" stroke="#000" stroke-width="3"/>
<path d="M1284.6 325.9V365.4" stroke="#000" stroke-width="3"/>
<path d="M1329.9 334.5V374.0" stroke="#000" stroke-width="3"/>
<path d="M1372.4 350.1V389.6" stroke="#000" stroke-width="3"/>
<circle cx="363.4" cy="378.6" r="8.9" fill="#1f70c9"/>
<circle cx="408.4" cy="390.2" r="8.9" fill="#1f70c9"/>
<circle cx="451.2" cy="395.7" r="8.9" fill="#1f70c9"/>
<circle cx="493.9" cy="414.6" r="8.9" fill="#1f70c9"/>
<circle cx="538.2" cy="423.4" r="8.9" fill="#1f70c9"/>
<circle cx="581.8" cy="429.7" r="8.9" fill="#1f70c9"/>
<circle cx="626.6" cy="433.5" r="8.9" fill="#1f70c9"/>
<circle cx="671.3" cy="429.7" r="8.9" fill="#1f70c9"/>
<circle cx="716.2" cy="381.5" r="8.9" fill="#1f70c9"/>
<circle cx="756.9" cy="299.6" r="8.9" fill="#1f70c9"/>
<circle cx="801.2" cy="248.5" r="8.9" fill="#1f70c9"/>
<circle cx="846.5" cy="206.4" r="8.9" fill="#1f70c9"/>
<circle cx="891.2" cy="182.0" r="8.9" fill="#1f70c9"/>
<circle cx="934.3" cy="160.6" r="8.9" fill="#1f70c9"/>
<circle cx="976.7" cy="152.0" r="8.9" fill="#1f70c9"/>
<circle cx="1022.0" cy="179.2" r="8.9" fill="#1f70c9"/>
<circle cx="1064.6" cy="227.0" r="8.9" fill="#1f70c9"/>
<circle cx="1109.4" cy="269.8" r="8.9" fill="#1f70c9"/>
<circle cx="1154.5" cy="303.2" r="8.9" fill="#1f70c9"/>
<circle cx="1199.6" cy="318.3" r="8.9" fill="#1f70c9"/>
<circle cx="1239.9" cy="330.3" r="8.9" fill="#1f70c9"/>
<circle cx="1284.6" cy="345.4" r="8.9" fill="#1f70c9"/>
<circle cx="1329.9" cy="354.0" r="8.9" fill="#1f70c9"/>
<circle cx="1372.4" cy="369.6" r="8.9" fill="#1f70c9"/>
<path d="M363.4 582.3V621.8" stroke="#000" stroke-width="3"/>
<path d="M408.4 606.5V646.0" stroke="#000" stroke-width="3"/>
<path d="M451.2 619.0V658.5" stroke="#000" stroke-width="3"/>
<path d="M493.9 612.8V652.3" stroke="#000" stroke-width="3"/>
<path d="M538.2 627.8V667.3" stroke="#000" stroke-width="3"/>
<path d="M581.8 646.0V685.5" stroke="#000" stroke-width="3"/>
<path d="M626.6 655.1V694.6" stroke="#000" stroke-width="3"/>
<path d="M671.3 625.0V664.5" stroke="#000" stroke-width="3"/>
<path d="M716.2 543.8V583.3" stroke="#000" stroke-width="3"/>
<path d="M756.9 510.2V549.7" stroke="#000" stroke-width="3"/>
<path d="M801.2 519.0V558.5" stroke="#000" stroke-width="3"/>
<path d="M846.5 434.9V474.4" stroke="#000" stroke-width="3"/>
<path d="M891.2 388.6V428.1" stroke="#000" stroke-width="3"/>
<path d="M934.3 340.8V380.3" stroke="#000" stroke-width="3"/>
<path d="M976.7 372.3V411.8" stroke="#000" stroke-width="3"/>
<path d="M1022.0 425.9V465.4" stroke="#000" stroke-width="3"/>
<path d="M1064.6 425.5V465.0" stroke="#000" stroke-width="3"/>
<path d="M1109.4 483.1V522.6" stroke="#000" stroke-width="3"/>
<path d="M1154.5 510.2V549.7" stroke="#000" stroke-width="3"/>
<path d="M1199.6 522.0V561.5" stroke="#000" stroke-width="3"/>
<path d="M1239.9 534.2V573.7" stroke="#000" stroke-width="3"/>
<path d="M1284.6 519.3V558.8" stroke="#000" stroke-width="3"/>
<path d="M1329.9 525.1V564.6" stroke="#000" stroke-width="3"/>
<path d="M1372.4 552.4V591.9" stroke="#000" stroke-width="3"/>
<circle cx="363.4" cy="601.8" r="8.9" fill="#ff7f27"/>
<circle cx="408.4" cy="626.0" r="8.9" fill="#ff7f27"/>
<circle cx="451.2" cy="638.5" r="8.9" fill="#ff7f27"/>
<circle cx="493.9" cy="632.3" r="8.9" fill="#ff7f27"/>
<circle cx="538.2" cy="647.3" r="8.9" fill="#ff7f27"/>
<circle cx="581.8" cy="665.5" r="8.9" fill="#ff7f27"/>
<circle cx="626.6" cy="674.6" r="8.9" fill="#ff7f27"/>
<circle cx="671.3" cy="644.5" r="8.9" fill="#ff7f27"/>
<circle cx="716.2" cy="563.3" r="8.9" fill="#ff7f27"/>
<circle cx="756.9" cy="529.7" r="8.9" fill="#ff7f27"/>
<circle cx="801.2" cy="538.5" r="8.9" fill="#ff7f27"/>
<circle cx="846.5" cy="454.4" r="8.9" fill="#ff7f27"/>
<circle cx="891.2" cy="408.1" r="8.9" fill="#ff7f27"/>
<circle cx="934.3" cy="360.3" r="8.9" fill="#ff7f27"/>
<circle cx="976.7" cy="391.8" r="8.9" fill="#ff7f27"/>
<circle cx="1022.0" cy="445.4" r="8.9" fill="#ff7f27"/>
<circle cx="1064.6" cy="445.0" r="8.9" fill="#ff7f27"/>
<circle cx="1109.4" cy="502.6" r="8.9" fill="#ff7f27"/>
<circle cx="1154.5" cy="529.7" r="8.9" fill="#ff7f27"/>
<circle cx="1199.6" cy="541.5" r="8.9" fill="#ff7f27"/>
<circle cx="1239.9" cy="553.7" r="8.9" fill="#ff7f27"/>
<circle cx="1284.6" cy="538.8" r="8.9" fill="#ff7f27"/>
<circle cx="1329.9" cy="544.6" r="8.9" fill="#ff7f27"/>
<circle cx="1372.4" cy="571.9" r="8.9" fill="#ff7f27"/>
</g>
<g id="labels">
<text id="y4" transform="translate(0 117.1) scale(1 1.075)" font-size="64"><tspan x="264.67" textLength="32.96" lengthAdjust="spacingAndGlyphs">4</tspan></text>
<text id="y2" transform="translate(0 236.5) scale(1 1.075)" font-size="64"><tspan x="267.76" textLength="32.96" lengthAdjust="spacingAndGlyphs">2</tspan></text>
<text id="y0" transform="translate(0 355.9) scale(1 1.075)" font-size="64"><tspan x="265.7" textLength="32.96" lengthAdjust="spacingAndGlyphs">0</tspan></text>
<text id="y-2" transform="translate(0 475.3) scale(1 1.075)" font-size="64"><tspan x="242.4" dy="1.9" textLength="21.31" lengthAdjust="spacingAndGlyphs">-</tspan><tspan x="267.76" dy="-1.9" textLength="32.96" lengthAdjust="spacingAndGlyphs">2</tspan></text>
<text id="y-4" transform="translate(0 594.7) scale(1 1.075)" font-size="64"><tspan x="242.4" dy="1.9" textLength="21.31" lengthAdjust="spacingAndGlyphs">-</tspan><tspan x="264.67" dy="-1.9" textLength="32.96" lengthAdjust="spacingAndGlyphs">4</tspan></text>
<text id="y-6" transform="translate(0 714.1) scale(1 1.075)" font-size="64"><tspan x="242.4" dy="1.9" textLength="21.31" lengthAdjust="spacingAndGlyphs">-</tspan><tspan x="265.7" dy="-1.9" textLength="32.96" lengthAdjust="spacingAndGlyphs">6</tspan></text>
<text id="y-8" transform="translate(0 833.5) scale(1 1.075)" font-size="64"><tspan x="242.4" dy="1.9" textLength="21.31" lengthAdjust="spacingAndGlyphs">-</tspan><tspan x="265.7" dy="-1.9" textLength="32.96" lengthAdjust="spacingAndGlyphs">8</tspan></text>
<text id="x0" transform="translate(0 450) scale(1 1.075)" font-size="64"><tspan x="346.86" textLength="33.28" lengthAdjust="spacingAndGlyphs">0</tspan></text>
<text id="x2" transform="translate(0 450) scale(1 1.075)" font-size="64"><tspan x="435.18" textLength="33.28" lengthAdjust="spacingAndGlyphs">2</tspan></text>
<text id="x4" transform="translate(0 450) scale(1 1.075)" font-size="64"><tspan x="522.46" textLength="33.28" lengthAdjust="spacingAndGlyphs">4</tspan></text>
<text id="x6" transform="translate(0 450) scale(1 1.075)" font-size="64"><tspan x="609.74" textLength="33.28" lengthAdjust="spacingAndGlyphs">6</tspan></text>
<text id="x8" transform="translate(0 450) scale(1 1.075)" font-size="64"><tspan x="698.06" textLength="33.28" lengthAdjust="spacingAndGlyphs">8</tspan></text>
<text id="x10" transform="translate(0 450) scale(1 1.075)" font-size="64"><tspan x="767.14" textLength="66.56" lengthAdjust="spacingAndGlyphs">10</tspan></text>
<text id="x12" transform="translate(0 450) scale(1 1.075)" font-size="64"><tspan x="855.98" textLength="66.56" lengthAdjust="spacingAndGlyphs">12</tspan></text>
<text id="x14" transform="translate(0 450) scale(1 1.075)" font-size="64"><tspan x="942.22" textLength="66.56" lengthAdjust="spacingAndGlyphs">14</tspan></text>
<text id="x16" transform="translate(0 450) scale(1 1.075)" font-size="64"><tspan x="1030.54" textLength="66.56" lengthAdjust="spacingAndGlyphs">16</tspan></text>
<text id="x18" transform="translate(0 450) scale(1 1.075)" font-size="64"><tspan x="1118.34" textLength="66.56" lengthAdjust="spacingAndGlyphs">18</tspan></text>
<text id="x20" transform="translate(0 450) scale(1 1.075)" font-size="64"><tspan x="1207.7" textLength="66.56" lengthAdjust="spacingAndGlyphs">20</tspan></text>
<text id="x22" transform="translate(0 450) scale(1 1.075)" font-size="64"><tspan x="1296.54" textLength="66.56" lengthAdjust="spacingAndGlyphs">22</tspan></text>
<text id="x24" transform="translate(0 450) scale(1 1.075)" font-size="64"><tspan x="1382.78" textLength="66.56" lengthAdjust="spacingAndGlyphs">24</tspan></text>
<text id="ytitle" transform="translate(69 0) rotate(-90) scale(1 1.055)" font-size="64"><tspan x="-1036.44" textLength="241.21" lengthAdjust="spacingAndGlyphs">Average</tspan> <tspan x="-777.15" textLength="351.13" lengthAdjust="spacingAndGlyphs">temperature</tspan> <tspan x="-412.19" textLength="59.43" lengthAdjust="spacingAndGlyphs">in</tspan> <tspan x="-336.22" textLength="221.95" lengthAdjust="spacingAndGlyphs">January</tspan></text>
<text id="yunit" transform="translate(158.7 0) rotate(-90) scale(1 1.08)" font-size="64"><tspan x="-628.27" textLength="110.14" lengthAdjust="spacingAndGlyphs">[°C]</tspan></text>
<text id="xtitle" transform="translate(0 1020.9) scale(1 1.055)" font-size="64"><tspan x="613.2" textLength="145.99" lengthAdjust="spacingAndGlyphs">Time</tspan> <tspan x="773.0" textLength="210.72" lengthAdjust="spacingAndGlyphs">[hours]</tspan></text>
<text id="leg1" transform="translate(0 1135.6) scale(1 1.067)" font-size="64"><tspan x="441.5" textLength="234.61" lengthAdjust="spacingAndGlyphs">Without</tspan> <tspan x="693.45" textLength="63.59" lengthAdjust="spacingAndGlyphs">TI</tspan></text>
<text id="leg2" transform="translate(0 1135.6) scale(1 1.067)" font-size="64"><tspan x="880.0" textLength="143.46" lengthAdjust="spacingAndGlyphs">With</tspan> <tspan x="1035.66" textLength="62.74" lengthAdjust="spacingAndGlyphs">TI</tspan></text>
</g>
<circle cx="405.7" cy="1119.2" r="9" fill="#1f70c9"/>
<circle cx="843.6" cy="1119" r="9" fill="#ff7f27"/>
</svg>
</body></html>
